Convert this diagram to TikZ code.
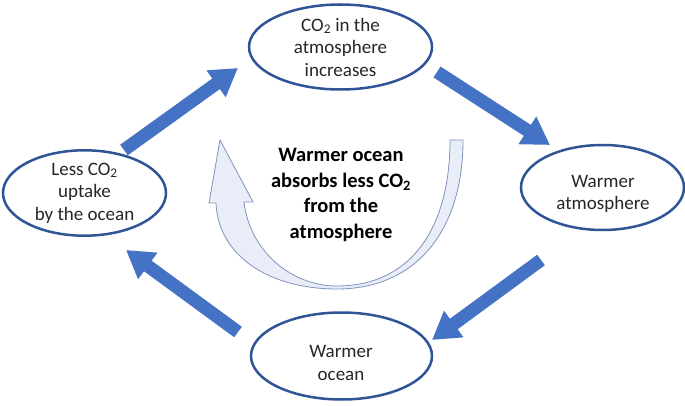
\documentclass[tikz,border=0pt]{standalone}
\usepackage{fontspec}
\setmainfont{Carlito}
\usetikzlibrary{shapes.geometric,arrows.meta}
\definecolor{ring}{HTML}{2F5597}
\definecolor{blk}{HTML}{4472C4}
\definecolor{curvefill}{HTML}{E9EDF7}
\definecolor{curveline}{HTML}{7F93BF}
\tikzset{
  cyc/.style={ellipse, draw=ring, line width=2.5pt, fill=white, align=center,
    font=\fontsize{19}{22.5}\selectfont, text=black!85, inner sep=0pt},
  cyctext/.style={align=center, font=\fontsize{19}{22.5}\selectfont, text=black!85, inner sep=0pt},
  blockarrow/.style={draw=blk, line width=13pt,
    -{Triangle[length=27pt,width=31pt]}},
}
\begin{document}
\begin{tikzpicture}[x=1pt,y=-1pt]
\useasboundingbox (0,0) rectangle (685,406);
% curved arrow
\draw[draw=curveline, fill=curvefill, line width=0.8pt, line join=miter]
  (463,140) .. controls (463,232) and (415,289) .. (337,289)
  .. controls (268,289) and (218,255) .. (216,203)
  -- (209,203) -- (220,140) -- (253,202) -- (244,202)
  .. controls (250,252) and (292,286) .. (337,286)
  .. controls (408,286) and (450,232) .. (450,140) -- cycle;
\node[font=\bfseries\fontsize{20.5}{25.5}\selectfont, align=center, text=black] (mid) at (341,195)
  {Warmer ocean\\absorbs less CO\textsubscript{2}\\from the\\atmosphere};
% ellipses
\node[cyc, minimum width=183pt, minimum height=85pt] (top) at (340.5,47) {CO\textsubscript{2} in the\\atmosphere\\increases};
\node[cyc, minimum width=163pt, minimum height=85pt] (right) at (602.5,187.5) {};
\node[cyctext] (rightt) at (603,194) {Warmer\\atmosphere};
\node[cyc, minimum width=163pt, minimum height=80pt] (left) at (84.5,193) {Less CO\textsubscript{2}\\uptake\\by the ocean};
\node[cyc, minimum width=181pt, minimum height=87pt] (bottom) at (341.5,356) {};
\node[cyctext] (bottomt) at (341,363) {Warmer\\ocean};
% block arrows
\coordinate (a1s) at (124,150);
\coordinate (a1e) at (238,68);
\coordinate (a2s) at (437,72);
\coordinate (a2e) at (550,145);
\coordinate (a3s) at (541,260);
\coordinate (a3e) at (432,340);
\coordinate (a4s) at (238,332);
\coordinate (a4e) at (126,250);
\draw[blockarrow] (a1s) -- (a1e);
\draw[blockarrow] (a2s) -- (a2e);
\draw[blockarrow] (a3s) -- (a3e);
\draw[blockarrow] (a4s) -- (a4e);
\end{tikzpicture}
\end{document}
